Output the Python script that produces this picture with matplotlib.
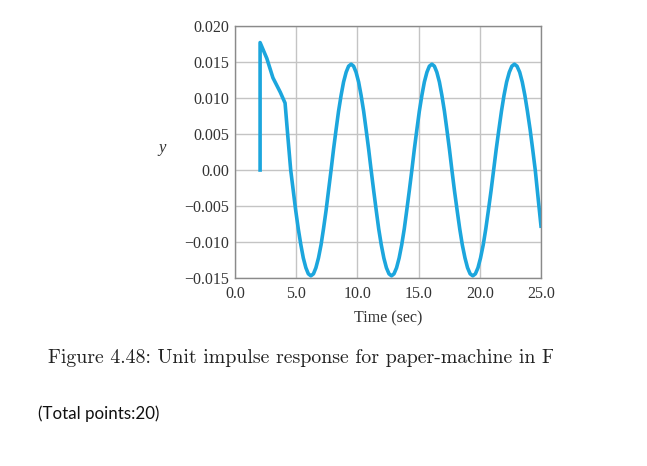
import matplotlib
matplotlib.use("Agg")
import matplotlib.pyplot as plt
from matplotlib.transforms import Bbox

# ---- data ----
# initial jump and decay
t_start = [2.05, 2.05, 2.6, 3.1, 3.7, 4.09, 4.3]
y_start = [0.0, 0.0177, 0.0155, 0.0128, 0.0108, 0.0093, 0.0050]

# oscillation, half-cycle by half-cycle
t_hc1 = [4.55, 4.76, 4.96, 5.17, 5.38, 5.58, 5.79, 5.99, 6.20, 6.41, 6.61, 6.82, 7.03, 7.23, 7.44, 7.64]
y_hc1 = [0.0, -0.00287, -0.00563, -0.00817, -0.01039, -0.01222, -0.01358, -0.01442, -0.0147,
         -0.01442, -0.01358, -0.01222, -0.01039, -0.00817, -0.00563, -0.00287]
t_hc2 = [7.85, 8.05, 8.26, 8.46, 8.67, 8.87, 9.08, 9.28, 9.49, 9.69, 9.89, 10.10, 10.30, 10.51, 10.71, 10.92]
y_hc2 = [0.0, 0.00287, 0.00563, 0.00817, 0.01039, 0.01222, 0.01358, 0.01442, 0.0147,
         0.01442, 0.01358, 0.01222, 0.01039, 0.00817, 0.00563, 0.00287]
t_hc3 = [11.12, 11.33, 11.54, 11.74, 11.95, 12.16, 12.37, 12.58, 12.79, 12.99, 13.20, 13.41, 13.62, 13.83, 14.03, 14.24]
y_hc3 = [0.0, -0.00287, -0.00563, -0.00817, -0.01039, -0.01222, -0.01358, -0.01442, -0.0147,
         -0.01442, -0.01358, -0.01222, -0.01039, -0.00817, -0.00563, -0.00287]
t_hc4 = [14.45, 14.65, 14.86, 15.06, 15.27, 15.47, 15.68, 15.88, 16.09, 16.29, 16.49, 16.70, 16.90, 17.11, 17.31, 17.52]
y_hc4 = [0.0, 0.00287, 0.00563, 0.00817, 0.01039, 0.01222, 0.01358, 0.01442, 0.0147,
         0.01442, 0.01358, 0.01222, 0.01039, 0.00817, 0.00563, 0.00287]
t_hc5 = [17.72, 17.93, 18.15, 18.36, 18.57, 18.79, 19.00, 19.21, 19.43, 19.64, 19.85, 20.06, 20.28, 20.49, 20.70, 20.92]
y_hc5 = [0.0, -0.00287, -0.00563, -0.00817, -0.01039, -0.01222, -0.01358, -0.01442, -0.0147,
         -0.01442, -0.01358, -0.01222, -0.01039, -0.00817, -0.00563, -0.00287]
t_hc6 = [21.13, 21.34, 21.56, 21.77, 21.98, 22.19, 22.41, 22.62, 22.83, 23.04, 23.26, 23.47, 23.68, 23.89, 24.11, 24.32]
y_hc6 = [0.0, 0.00287, 0.00563, 0.00817, 0.01039, 0.01222, 0.01358, 0.01442, 0.0147,
         0.01442, 0.01358, 0.01222, 0.01039, 0.00817, 0.00563, 0.00287]
t_end = [24.53, 24.77, 25.0]
y_end = [0.0, -0.0040, -0.0078]

t_vals = t_start + t_hc1 + t_hc2 + t_hc3 + t_hc4 + t_hc5 + t_hc6 + t_end
y_vals = y_start + y_hc1 + y_hc2 + y_hc3 + y_hc4 + y_hc5 + y_hc6 + y_end

x_ticks = [0, 5, 10, 15, 20, 25]
x_tick_labels = ["0.0", "5.0", "10.0", "15.0", "20.0", "25.0"]
y_ticks = [0.020, 0.015, 0.010, 0.005, 0.0, -0.005, -0.010, -0.015]
y_tick_labels = ["0.020", "0.015", "0.010", "0.005", "0.00",
                 "\u22120.005", "\u22120.010", "\u22120.015"]

x_label = "Time (sec)"
y_label = "y"
caption = "Figure 4.48: Unit impulse response for paper-machine in F"
footer = "(Total points:20)"

W, H = 647, 466
fig = plt.figure(figsize=(W / 100, H / 100), dpi=100)
fig.patch.set_facecolor("white")

ax = fig.add_axes([235 / W, 1 - 278 / H, (541 - 235) / W, (278 - 26) / H])
ax.plot(t_vals, y_vals, color="#1ca6dd", lw=2.6, solid_joinstyle="round")
ax.set_xlim(0, 25)
ax.set_ylim(-0.015, 0.020)
ax.set_xticks(x_ticks)
ax.set_xticklabels(x_tick_labels)
ax.set_yticks(y_ticks)
ax.set_yticklabels(y_tick_labels)
ax.grid(True, color="#c4c4c4", lw=1.0)
ax.set_axisbelow(True)
for s in ax.spines.values():
    s.set_color("#8a8a8a")
    s.set_linewidth(1.0)
ax.tick_params(length=0, pad=4, labelsize=11.5, colors="#333333")
ax.tick_params(axis="x", pad=6)
for lab in ax.get_xticklabels() + ax.get_yticklabels():
    lab.set_family("Liberation Serif")
ax.set_xlabel(x_label, family="Liberation Serif", fontsize=11.5, color="#333333", labelpad=6)

fig.text(162 / W, 1 - 148 / H, y_label, family="Liberation Serif", style="italic",
         fontsize=12, color="#333333", ha="center", va="center")

cap = fig.text(48 / W, 1 - 358 / H, caption, family="cmr10", fontsize=14.3,
               color="#222222", ha="left", va="center")
cap.set_clip_box(Bbox.from_extents(0, 0, 553, H))
cap.set_clip_on(True)

fig.text(38 / W, 1 - 414 / H, footer, family="Lato", fontsize=12.2,
         color="#111111", ha="left", va="center")

fig.savefig("out.png", dpi=100, facecolor="white")
